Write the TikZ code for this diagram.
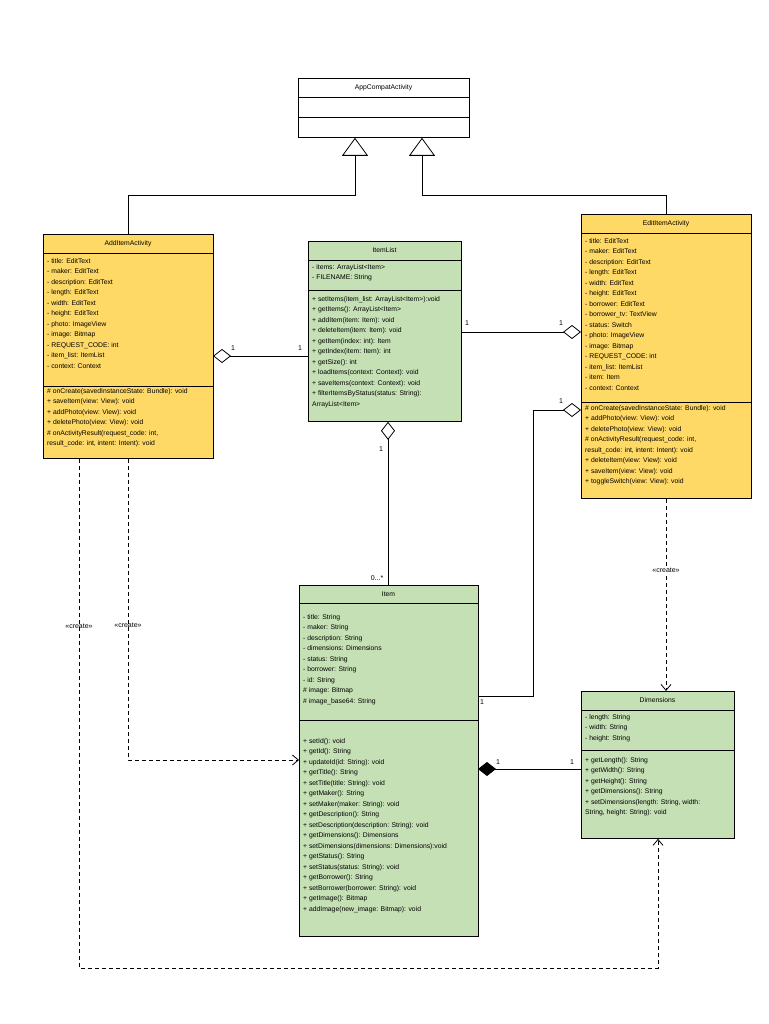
\documentclass[tikz,border=0pt]{standalone}
\usepackage{fontspec}
\setmainfont{Liberation Sans}
\usetikzlibrary{arrows.meta}
\definecolor{yel}{HTML}{FFD966}
\definecolor{grn}{HTML}{C5E0B4}
\tikzset{
  box/.style={draw, line width=0.8pt, rectangle, anchor=north west, inner sep=0pt},
  txt/.style={anchor=north west, align=left, inner sep=0pt, font=\fontsize{6.8}{10.5}\selectfont},
  ttl/.style={anchor=center, inner sep=0pt, font=\fontsize{6.8}{8}\selectfont},
  lbl/.style={inner sep=1pt, font=\fontsize{7}{8}\selectfont},
  conn/.style={line width=0.8pt},
  inh/.style={conn, {Triangle[open, length=18pt, width=26pt]}-},
  agg/.style={conn, {Diamond[open, length=18pt, width=14pt]}-},
  cmp/.style={conn, {Diamond[length=18pt, width=14pt]}-},
  dep/.style={conn, dashed, dash pattern=on 4pt off 3pt, -{Straight Barb[length=6pt, width=10pt]}}
}
\begin{document}
\begin{tikzpicture}[x=1pt,y=-1pt]
\useasboundingbox (0,0) rectangle (768,1024);

% AppCompatActivity
\node[box, minimum width=171pt, minimum height=59pt] (App) at (298,78) {};
\draw[conn] (298,97) -- (469,97) (298,117) -- (469,117);
\node[ttl] (AppT) at (383.5,87.5) {AppCompatActivity};

% AddItemActivity
\node[box, fill=yel, minimum width=170pt, minimum height=224pt] (Add) at (43,234) {};
\draw[conn] (43,253) -- (213,253) (43,386) -- (213,386);
\node[ttl] (AddT) at (128,243.5) {AddItemActivity};
\node[txt] (AddA) at (47,258) {- title: EditText\\- maker: EditText\\- description: EditText\\- length: EditText\\- width: EditText\\- height: EditText\\- photo: ImageView\\- image: Bitmap\\- REQUEST\_CODE: int\\- item\_list: ItemList\\- context: Context};
\node[txt] (AddM) at (47,388) {\# onCreate(savedInstanceState: Bundle): void\\+ saveItem(view: View): void\\+ addPhoto(view: View): void\\+ deletePhoto(view: View): void\\\# onActivityResult(request\_code: int,\\result\_code: int, intent: Intent): void};

% ItemList
\node[box, fill=grn, minimum width=153pt, minimum height=180pt] (List) at (308,241) {};
\draw[conn] (308,260) -- (461,260) (308,290) -- (461,290);
\node[ttl] (ListT) at (384.5,250.5) {ItemList};
\node[txt] (ListA) at (312,264) {- items: ArrayList<Item>\\- FILENAME: String};
\node[txt] (ListM) at (312,296) {+ setItems(item\_list: ArrayList<Item>):void\\+ getItems(): ArrayList<Item>\\+ addItem(item: Item): void\\+ deleteItem(item: Item): void\\+ getItem(index: int): Item\\+ getIndex(item: Item): int\\+ getSize(): int\\+ loadItems(context: Context): void\\+ saveItems(context: Context): void\\+ filterItemsByStatus(status: String):\\ArrayList<Item>};

% EditItemActivity
\node[box, fill=yel, minimum width=170pt, minimum height=284pt] (Edit) at (581,214) {};
\draw[conn] (581,233) -- (751,233) (581,402) -- (751,402);
\node[ttl] (EditT) at (666,223.5) {EditItemActivity};
\node[txt] (EditA) at (585,238) {- title: EditText\\- maker: EditText\\- description: EditText\\- length: EditText\\- width: EditText\\- height: EditText\\- borrower: EditText\\- borrower\_tv: TextView\\- status: Switch\\- photo: ImageView\\- image: Bitmap\\- REQUEST\_CODE: int\\- item\_list: ItemList\\- item: Item\\- context: Context};
\node[txt] (EditM) at (585,405) {\# onCreate(savedInstanceState: Bundle): void\\+ addPhoto(view: View): void\\+ deletePhoto(view: View): void\\\# onActivityResult(request\_code: int,\\result\_code: int, intent: Intent): void\\+ deleteItem(view: View): void\\+ saveItem(view: View): void\\+ toggleSwitch(view: View): void};

% Item
\node[box, fill=grn, minimum width=179pt, minimum height=351pt] (Item) at (299,585) {};
\draw[conn] (299,603) -- (478,603) (299,720) -- (478,720);
\node[ttl] (ItemT) at (388.5,594) {Item};
\node[txt] (ItemA) at (303,614) {- title: String\\- maker: String\\- description: String\\- dimensions: Dimensions\\- status: String\\- borrower: String\\- id: String\\\# image: Bitmap\\\# image\_base64: String};
\node[txt] (ItemM) at (303,738) {+ setId(): void\\+ getId(): String\\+ updateId(id: String): void\\+ getTitle(): String\\+ setTitle(title: String): void\\+ getMaker(): String\\+ setMaker(maker: String): void\\+ getDescription(): String\\+ setDescription(description: String): void\\+ getDimensions(): Dimensions\\+ setDimensions(dimensions: Dimensions):void\\+ getStatus(): String\\+ setStatus(status: String): void\\+ getBorrower(): String\\+ setBorrower(borrower: String): void\\+ getImage(): Bitmap\\+ addImage(new\_image: Bitmap): void};

% Dimensions
\node[box, fill=grn, minimum width=153pt, minimum height=147pt] (Dim) at (581,691) {};
\draw[conn] (581,710) -- (734,710) (581,750) -- (734,750);
\node[ttl] (DimT) at (657.5,700.5) {Dimensions};
\node[txt] (DimA) at (585,714) {- length: String\\- width: String\\- height: String};
\node[txt] (DimM) at (585,757) {+ getLength(): String\\+ getWidth(): String\\+ getHeight(): String\\+ getDimensions(): String\\+ setDimensions(length: String, width:\\String, height: String): void};

% inheritance
\draw[inh] (App.south -| 355,0) -- (355,195) -| (Add.north);
\draw[inh] (App.south -| 422,0) -- (422,195) -| (Edit.north);

% aggregations
\coordinate (a1) at (213,356);
\draw[agg] (a1) -- (a1 -| List.west);
\node[lbl] at (233,348) {1};
\node[lbl] at (300,348) {1};
\coordinate (a2) at (581,332);
\draw[agg] (a2) -- (a2 -| List.east);
\node[lbl] at (467,323) {1};
\node[lbl] at (561,323) {1};
\draw[agg] (List.south -| 388,0) -- (Item.north -| 388,0);
\node[lbl] at (381,449) {1};
\node[lbl] at (377,578) {0...*};
\coordinate (a3) at (581,410);
\draw[agg] (a3) -- (533,410) |- (Item.east |- 0,696);
\node[lbl] at (561,401) {1};
\node[lbl] at (482,702) {1};

% composition
\coordinate (c1) at (478,769);
\draw[cmp] (c1) -- (c1 -| Dim.west);
\node[lbl] at (498,762) {1};
\node[lbl] at (572,762) {1};

% dependencies
\draw[dep] (Add.south -| 128,0) -- (128,760) -- (Item.west |- 0,760);
\node[lbl] at (128,625) {<<create>>};
\draw[dep] (Add.south -| 79,0) -- (79,968) -- (658,968) -- (Dim.south -| 658,0);
\node[lbl] at (79,626) {<<create>>};
\draw[dep] (Edit.south -| 666,0) -- (Dim.north -| 666,0);
\node[lbl, fill=white] at (666,570) {<<create>>};
\end{tikzpicture}
\end{document}
